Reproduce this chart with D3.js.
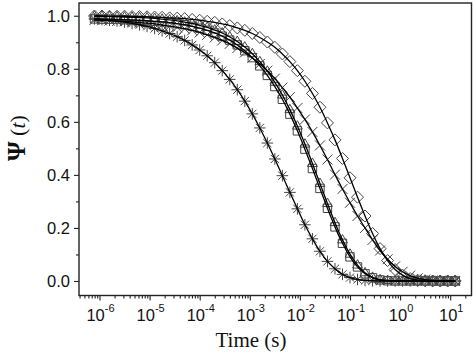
<!DOCTYPE html>
<html><head><meta charset="utf-8">
<script src="https://cdn.jsdelivr.net/npm/d3@7"></script>
<style>body{margin:0;background:#fff}</style>
</head><body>
<svg id="c" width="474" height="355"></svg>
<script>
// time exponents (log10 of time in s) of the sampled points
const logTime = [-6.1,-5.95,-5.8,-5.65,-5.5,-5.35,-5.2,-5.05,-4.9,-4.75,
  -4.6,-4.45,-4.3,-4.15,-4.0,-3.85,-3.7,-3.55,-3.4,-3.25,
  -3.1,-2.95,-2.8,-2.65,-2.5,-2.35,-2.2,-2.05,-1.9,-1.75,
  -1.6,-1.45,-1.3,-1.15,-1.0,-0.85,-0.7,-0.55,-0.4,-0.25,
  -0.1,0.05,0.2,0.35,0.5,0.65,0.8,0.95,1.1];

const asterisk = [0.988,0.986,0.983,0.980,0.976,0.971,0.966,0.960,0.952,0.943,
  0.933,0.921,0.907,0.890,0.871,0.849,0.823,0.793,0.760,0.721,
  0.678,0.630,0.577,0.520,0.460,0.397,0.334,0.272,0.212,0.159,
  0.112,0.074,0.046,0.025,0.013,0.006,0.002,0.001,0,0,
  0,0,0,0,0,0,0,0,0];
const triangle = [0.998,0.998,0.997,0.996,0.995,0.994,0.993,0.992,0.990,0.987,
  0.984,0.981,0.976,0.971,0.964,0.956,0.946,0.935,0.920,0.903,
  0.882,0.857,0.827,0.791,0.749,0.701,0.646,0.584,0.516,0.443,
  0.368,0.292,0.220,0.155,0.101,0.060,0.031,0.014,0.005,0.002,
  0,0,0,0,0,0,0,0,0];
const square = [0.988,0.987,0.987,0.986,0.985,0.984,0.983,0.981,0.979,0.977,
  0.974,0.970,0.966,0.960,0.953,0.945,0.935,0.923,0.908,0.890,
  0.868,0.842,0.811,0.775,0.733,0.685,0.629,0.566,0.497,0.424,
  0.349,0.274,0.204,0.142,0.091,0.053,0.027,0.012,0.004,0.001,
  0,0,0,0,0,0,0,0,0];
const cross = [0.984,0.983,0.982,0.980,0.979,0.977,0.974,0.972,0.969,0.965,
  0.961,0.956,0.951,0.945,0.937,0.928,0.918,0.907,0.894,0.878,
  0.861,0.841,0.818,0.793,0.763,0.729,0.693,0.652,0.609,0.562,
  0.511,0.458,0.401,0.347,0.295,0.245,0.200,0.155,0.115,0.082,
  0.055,0.035,0.020,0.010,0.005,0.002,0.001,0,0];
const diamond = [0.999,0.999,0.998,0.998,0.998,0.997,0.997,0.996,0.995,0.994,
  0.992,0.991,0.989,0.986,0.983,0.979,0.975,0.969,0.963,0.954,
  0.945,0.933,0.918,0.901,0.881,0.856,0.827,0.793,0.753,0.707,
  0.655,0.596,0.532,0.462,0.389,0.316,0.245,0.179,0.122,0.077,
  0.043,0.022,0.009,0.003,0.001,0,0,0,0];

const yTicks = [0.0,0.2,0.4,0.6,0.8,1.0];
const yMinorTicks = [0.1,0.3,0.5,0.7,0.9];
const xTickExps = [-6,-5,-4,-3,-2,-1,0,1];

const svg = d3.select("#c");
const L=79, R=471.5, T=3, B=295.5;
const x = d3.scaleLog().domain([Math.pow(10,-6.409), Math.pow(10,1.425)]).range([L,R]);
const y = d3.scaleLinear().domain([-0.0547,1.048]).range([B,T]);
const time = logTime.map(e => Math.pow(10,e));

// minor x ticks
const xMinor = [];
for (let e=-7; e<=1; e++) for (let m=2; m<=9; m++) {
  const v = m*Math.pow(10,e);
  if (v >= x.domain()[0] && v <= x.domain()[1]) xMinor.push(v);
}

const tickColor = "#222";
// x axis
const gx = svg.append("g").attr("transform",`translate(0,${B})`);
gx.call(d3.axisBottom(x).tickValues(xMinor).tickSize(3).tickFormat(""));
gx.append("g").call(d3.axisBottom(x).tickValues(xTickExps.map(e=>Math.pow(10,e))).tickSize(5).tickFormat(""));
gx.selectAll(".domain").remove();
gx.selectAll("line").attr("stroke",tickColor).attr("stroke-width",1.1);

// y axis
const gy = svg.append("g").attr("transform",`translate(${L},0)`);
gy.call(d3.axisLeft(y).tickValues(yMinorTicks).tickSize(3).tickFormat(""));
gy.append("g").call(d3.axisLeft(y).tickValues(yTicks).tickSize(5).tickFormat(d3.format(".1f")));
gy.selectAll(".domain").remove();
gy.selectAll("line").attr("stroke",tickColor).attr("stroke-width",1.1);
gy.selectAll("text").attr("font-family","Liberation Sans, Arial, sans-serif")
  .attr("font-size","16.5px").attr("fill","#111").attr("x",-9).attr("dy","0.36em");

// x tick labels with superscripts
const xl = svg.append("g");
xTickExps.forEach(e => {
  const t = xl.append("text").attr("x", x(Math.pow(10,e))+1).attr("y", 321)
    .attr("text-anchor","middle").attr("font-family","Liberation Sans, Arial, sans-serif")
    .attr("font-size","16.5px").attr("fill","#111");
  t.append("tspan").text("10");
  t.append("tspan").attr("dy",-9).attr("font-size","11px").text(String(e));
});

// frame
svg.append("rect").attr("x",L).attr("y",T).attr("width",R-L).attr("height",B-T)
  .attr("fill","none").attr("stroke","#222").attr("stroke-width",1.4);

// series
const series = [
  {vals: asterisk, shape: "asterisk"},
  {vals: square, shape: "square"},
  {vals: triangle, shape: "triangle"},
  {vals: cross, shape: "cross"},
  {vals: diamond, shape: "diamond"}
];
const shapes = {
  asterisk: "M-5.8,0L5.8,0M0,-5.8L0,5.8M-4.1,-4.1L4.1,4.1M-4.1,4.1L4.1,-4.1",
  square: "M-4.2,-4.2L4.2,-4.2L4.2,4.2L-4.2,4.2Z",
  triangle: "M0,-5.4L4.9,3L-4.9,3Z",
  cross: "M-5,-5L5,5M-5,5L5,-5",
  diamond: "M0,-6L6,0L0,6L-6,0Z"
};
const line = d3.line().x(d=>x(d[0])).y(d=>y(d[1])).curve(d3.curveMonotoneX);
const plot = svg.append("g");
series.forEach(s => {
  const pts = time.map((t,i)=>[t, s.vals[i]]);
  plot.append("g").selectAll("path").data(pts).join("path")
    .attr("transform", d=>`translate(${x(d[0])},${y(d[1])})`)
    .attr("d", shapes[s.shape]).attr("fill","none")
    .attr("stroke","#444").attr("stroke-width",1);
});
series.forEach(s => {
  const pts = time.map((t,i)=>[t, s.vals[i]]);
  plot.append("path").datum(pts).attr("d", line).attr("fill","none")
    .attr("stroke","#000").attr("stroke-width",1.3);
});

// axis titles
const yt = svg.append("text").attr("transform","translate(25,138) rotate(-90)")
  .attr("text-anchor","middle").attr("font-family","Liberation Serif, Times New Roman, serif")
  .attr("font-size","22px").attr("fill","#111");
yt.append("tspan").attr("font-size","25px").attr("font-weight","bold").text("Ψ");
yt.append("tspan").text(" (");
yt.append("tspan").attr("font-style","italic").text("t");
yt.append("tspan").text(")");

svg.append("text").attr("x",251).attr("y",347).attr("text-anchor","middle")
  .attr("font-family","Liberation Serif, Times New Roman, serif")
  .attr("font-size","21px").attr("fill","#111").text("Time (s)");
</script>
</body></html>
